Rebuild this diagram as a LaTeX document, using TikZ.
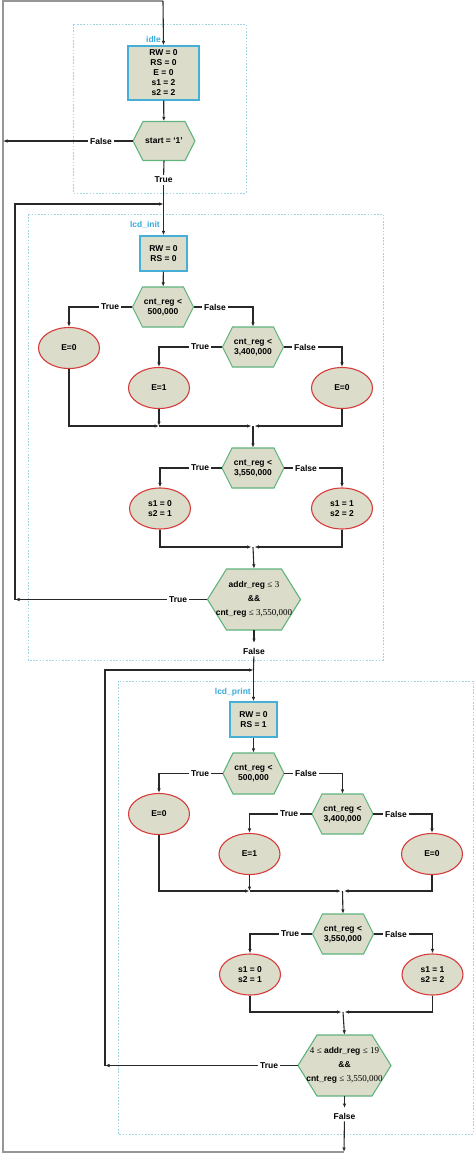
\documentclass[tikz,border=0pt]{standalone}
\usepackage{fontspec}
\setmainfont{Liberation Sans}
\newfontfamily\serifx{Liberation Serif}
\usetikzlibrary{arrows.meta,shapes.geometric}
\definecolor{fillc}{RGB}{220,220,202}
\definecolor{boxb}{RGB}{70,175,215}
\definecolor{hexb}{RGB}{95,180,125}
\definecolor{ellb}{RGB}{215,60,60}
\definecolor{contb}{RGB}{160,212,228}
\definecolor{labc}{RGB}{55,170,220}
\definecolor{linec}{RGB}{40,40,40}
\definecolor{loopc}{RGB}{150,150,150}
\newcommand\fnt{\bfseries\fontsize{8.5}{10}\selectfont}
\tikzset{
  conn/.style={draw=linec, line width=1.1pt},
  arr/.style={conn, -{Latex[length=4.5pt,width=3.5pt]}},
  loopline/.style={draw=loopc, line width=2.2pt},
  container/.style={draw=contb, line width=0.8pt, dash pattern=on 1.6pt off 1.6pt},
  contlabel/.style={text=labc, font=\fnt, anchor=east, inner sep=1pt},
  actbox/.style={rectangle, draw=boxb, fill=fillc, line width=1.3pt, font=\fnt, align=center, inner sep=0pt},
  ell/.style={ellipse, draw=ellb, fill=fillc, line width=1.1pt, minimum width=61pt, minimum height=41pt, inner sep=0pt, font=\fnt, align=center},
  hexline/.style={draw=hexb, fill=fillc, line width=1.1pt},
  hextext/.style={rectangle, inner sep=0pt, font=\fnt, align=center},
  tf/.style={fill=white, font=\fnt, inner sep=2pt},
}
% name, x, y, width, height, slant, text
\newcommand\hexn[7]{%
  \path[hexline] (#2-#4/2,#3) -- (#2-#4/2+#6,#3-#5/2) -- (#2+#4/2-#6,#3-#5/2) -- (#2+#4/2,#3)
     -- (#2+#4/2-#6,#3+#5/2) -- (#2-#4/2+#6,#3+#5/2) -- cycle;
  \node[hextext, minimum width=#4pt, minimum height=#5pt] (#1) at (#2,#3) {#7};}
\newcommand\lesym{{\serifx\mdseries\fontsize{9}{10}\selectfont ≤}}
\newcommand\sx[1]{{\serifx\mdseries\fontsize{9}{10}\selectfont #1}}
\begin{document}
\begin{tikzpicture}[x=1pt,y=-1pt]
\useasboundingbox (0,0) rectangle (474,1154);
% containers
\draw[container] (73,24) rectangle (246,193);
\draw[container] (28,214) rectangle (383,660);
\draw[container] (118,681) rectangle (473,1134);
\node[contlabel] (lidle) at (162,39) {idle};
\node[contlabel] (linit) at (161,225) {lcd\_init};
\node[contlabel] (lprint) at (252,692) {lcd\_print};

% outer loop
\coordinate (topR) at (163,1);
\coordinate (topL) at (3,1);
\coordinate (botL) at (3,1152);
\coordinate (botR) at (344,1152);
\draw[loopline] (botR) -- (botL) -- (topL) -- (topR);

% ---------- idle ----------
\node[actbox, minimum width=71pt, minimum height=54pt] (idlebox) at (163.5,73) {RW = 0\\RS = 0\\E = 0\\s1 = 2\\s2 = 2};
\hexn{start}{164}{141}{62}{39}{10}{start = ‘1’}
\coordinate (idleF) at (3,141);
\draw[arr] (topR) -- (idlebox.north);
\draw[arr] (idlebox) -- (start);
\draw[arr] (start.west) -- (idleF);
\node[tf] (fidle) at (101,141) {False};
\node[tf] (tidle) at (163.5,180) {True};
\draw[conn] (start.south) -- (tidle);

% ---------- lcd_init ----------
\node[actbox, minimum width=47pt, minimum height=35pt] (initbox) at (163.5,253.5) {RW = 0\\RS = 0};
\hexn{h1}{163}{307}{61}{40}{10}{cnt\_reg <\\500,000}
\node[ell] (e1) at (69,348) {E=0};
\hexn{h2}{253}{347}{61}{40}{10}{cnt\_reg <\\3,400,000}
\node[ell] (e2) at (159,388) {E=1};
\node[ell] (e3) at (342,388) {E=0};
\coordinate (m1) at (159,426);
\coordinate (m2) at (253,426);
\hexn{h3}{253}{468}{62}{40}{10}{cnt\_reg <\\3,550,000}
\node[ell] (e4) at (160,508.5) {s1 = 0\\s2 = 1};
\node[ell] (e5) at (342,508.5) {s1 = 1\\s2 = 2};
\coordinate (m3) at (253,547);
\hexn{h4}{254}{599.5}{93}{61}{19}{addr\_reg \lesym\ \sx{3}\\[4pt]\&\&\\[4pt]cnt\_reg \lesym\ \sx{3,550,000}}
\coordinate (L2b) at (15,599.5);
\coordinate (L2t) at (15,204);
\coordinate (J2) at (163.5,204);

\draw[arr] (tidle) -- (initbox.north);
\draw[arr] (initbox) -- (h1);
\draw[arr] (h1.west) -| (e1.north);
\draw[arr] (h1.east) -| (h2.north);
\draw[arr] (h2.west) -| (e2.north);
\draw[arr] (h2.east) -| (e3.north);
\draw[arr] (e1.south) |- (m1);
\draw[arr] (e2.south) -- (m1);
\draw[arr] (m1) -- ([xshift=-1.5pt]m2);
\draw[arr] (e3.south) |- ([xshift=1.5pt]m2);
\draw[arr] (m2) -- (h3.north);
\draw[arr] (h3.west) -| (e4.north);
\draw[arr] (h3.east) -| (e5.north);
\draw[arr] (e4.south) |- ([xshift=-1.5pt]m3);
\draw[arr] (e5.south) |- ([xshift=1.5pt]m3);
\draw[arr] (m3) -- (h4.north);
\draw[arr] (h4.west) -- (L2b);
\draw[arr] (L2b) -- (L2t) -- (J2);
\node[tf] (t1) at (110,307) {True};
\node[tf] (f1) at (215,307) {False};
\node[tf] (t2) at (200,347) {True};
\node[tf] (f2) at (305,347) {False};
\node[tf] (t3) at (200,468) {True};
\node[tf] (f3) at (306,468) {False};
\node[tf] (t4) at (178,599.5) {True};
\coordinate (f4a) at (254,643);
\draw[arr] (h4.south) -- (f4a);
\node[tf] (f4) at (254,651) {False};

% ---------- lcd_print ----------
\node[actbox, minimum width=47pt, minimum height=35pt] (printbox) at (253.5,719.5) {RW = 0\\RS = 1};
\hexn{h5}{253.5}{773.5}{61}{41}{10}{cnt\_reg <\\500,000}
\node[ell] (e6) at (159,814) {E=0};
\hexn{h6}{342.5}{814}{61}{40}{10}{cnt\_reg <\\3,400,000}
\node[ell] (e7) at (249.5,854) {E=1};
\node[ell] (e8) at (432,854) {E=0};
\coordinate (m5) at (249.5,891);
\coordinate (m6) at (342.5,891);
\hexn{h7}{343}{934}{61}{40}{10}{cnt\_reg <\\3,550,000}
\node[ell] (e9) at (250,974.5) {s1 = 0\\s2 = 1};
\node[ell] (e10) at (432.5,974.5) {s1 = 1\\s2 = 2};
\coordinate (m7) at (343,1012);
\hexn{h8}{344.5}{1065.5}{93}{61}{19}{\sx{4} \lesym\ addr\_reg \lesym\ \sx{19}\\[4pt]\&\&\\[4pt]cnt\_reg \lesym\ \sx{3,550,000}}
\coordinate (L3b) at (105,1065.5);
\coordinate (L3t) at (105,670);
\coordinate (J3) at (253.5,670);

\draw[conn] (f4) -- (J3);
\draw[arr] (J3) -- (printbox.north);
\draw[arr] (printbox) -- (h5);
\draw[arr] (h5.west) -| (e6.north);
\draw[arr] (h5.east) -| (h6.north);
\draw[arr] (h6.west) -| (e7.north);
\draw[arr] (h6.east) -| (e8.north);
\draw[arr] (e6.south) |- (m5);
\draw[arr] (e7.south) -- (m5);
\draw[arr] (m5) -- ([xshift=-1.5pt]m6);
\draw[arr] (e8.south) |- ([xshift=1.5pt]m6);
\draw[arr] (m6) -- (h7.north);
\draw[arr] (h7.west) -| (e9.north);
\draw[arr] (h7.east) -| (e10.north);
\draw[arr] (e9.south) |- ([xshift=-1.5pt]m7);
\draw[arr] (e10.south) |- ([xshift=1.5pt]m7);
\draw[arr] (m7) -- (h8.north);
\draw[arr] (h8.west) -- (L3b);
\draw[arr] (L3b) -- (L3t) -- (J3);
\node[tf] (t5) at (200,773.5) {True};
\node[tf] (f5) at (306,773.5) {False};
\node[tf] (t6) at (289,814) {True};
\node[tf] (f6) at (396,814) {False};
\node[tf] (t7) at (290,934) {True};
\node[tf] (f7) at (396,934) {False};
\node[tf] (t8) at (269,1065.5) {True};
\coordinate (f8a) at (344.5,1108);
\draw[arr] (h8.south) -- (f8a);
\node[tf] (f8) at (344.5,1116) {False};
\draw[arr] (f8) -- (botR);
\end{tikzpicture}
\end{document}
